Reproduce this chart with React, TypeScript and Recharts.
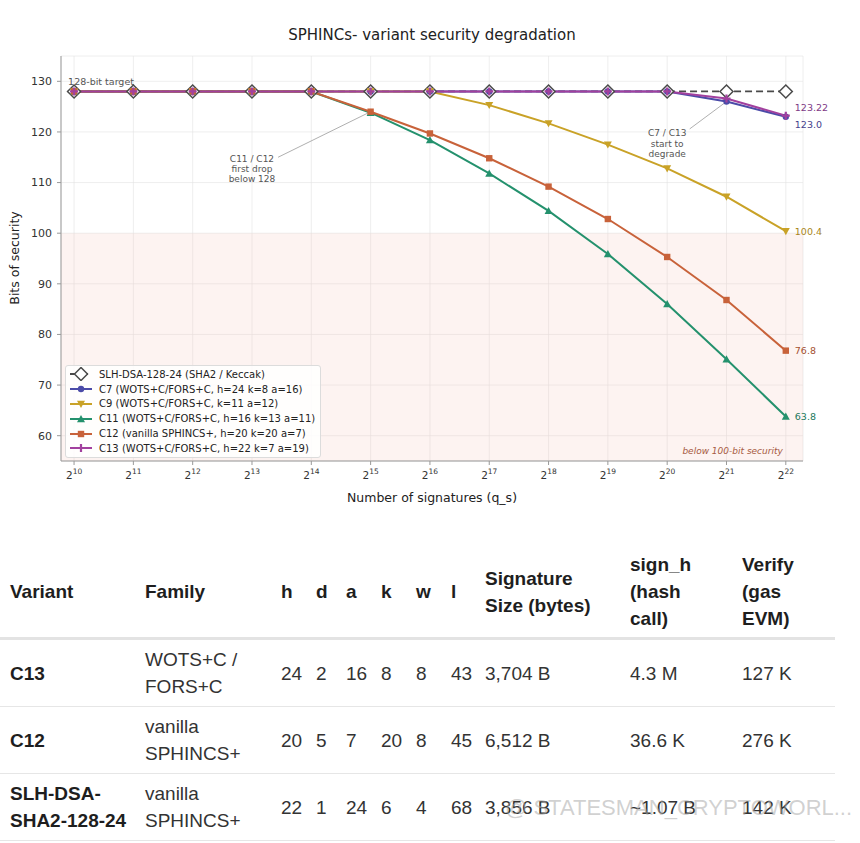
import React from 'react'
import {
  LineChart,
  Line,
  XAxis,
  YAxis,
  CartesianGrid,
  ReferenceArea,
  ReferenceLine,
  ReferenceDot,
  Legend,
  LabelList,
} from 'recharts'

// x is log2 of the number of signatures
const exponents = [10, 11, 12, 13, 14, 15, 16, 17, 18, 19, 20, 21, 22]
const slhDsa = [128, 128, 128, 128, 128, 128, 128, 128, 128, 128, 128, 128, 128]
const c7 = [128, 128, 128, 128, 128, 128, 128, 128, 128, 128, 128, 126.0, 123.0]
const c9 = [128, 128, 128, 128, 128, 128, 128, 125.3, 121.7, 117.5, 112.8, 107.2, 100.4]
const c11 = [128, 128, 128, 128, 128, 123.8, 118.4, 111.8, 104.4, 95.9, 86.0, 75.1, 63.8]
const c12 = [128, 128, 128, 128, 128, 124.0, 119.7, 114.8, 109.2, 102.8, 95.3, 86.8, 76.8]
const c13 = [128, 128, 128, 128, 128, 128, 128, 128, 128, 128, 128, 126.6, 123.22]
const yTicks = [60, 70, 80, 90, 100, 110, 120, 130]

const seriesNames = [
  'SLH-DSA-128-24 (SHA2 / Keccak)',
  'C7 (WOTS+C/FORS+C, h=24 k=8 a=16)',
  'C9 (WOTS+C/FORS+C, k=11 a=12)',
  'C11 (WOTS+C/FORS+C, h=16 k=13 a=11)',
  'C12 (vanilla SPHINCS+, h=20 k=20 a=7)',
  'C13 (WOTS+C/FORS+C, h=22 k=7 a=19)',
]

// table
const headers = ['Variant', 'Family', 'h', 'd', 'a', 'k', 'w', 'l', 'Signature\nSize (bytes)', 'sign_h\n(hash\ncall)', 'Verify\n(gas\nEVM)']
const variants = ['C13', 'C12', 'SLH-DSA-\nSHA2-128-24']
const families = ['WOTS+C /\nFORS+C', 'vanilla\nSPHINCS+', 'vanilla\nSPHINCS+']
const hVals = [24, 20, 22]
const dVals = [2, 5, 1]
const aVals = [16, 7, 24]
const kVals = [8, 20, 6]
const wVals = [8, 8, 4]
const lVals = [43, 45, 68]
const sigSizes = ['3,704 B', '6,512 B', '3,856 B']
const signH = ['4.3 M', '36.6 K', '~1.07 B']
const verifyGas = ['127 K', '276 K', '142 K']

const data = exponents.map((x, i) => ({
  x,
  slh: slhDsa[i],
  c7: c7[i],
  c9: c9[i],
  c11: c11[i],
  c12: c12[i],
  c13: c13[i],
}))

type Shape = 'diamond' | 'circle' | 'triDown' | 'triUp' | 'square' | 'plus'

const styles = [
  { key: 'slh', color: '#4a4a4a', shape: 'diamond' as Shape, dash: '7 4', width: 1.8 },
  { key: 'c7', color: '#4b4ba8', shape: 'circle' as Shape, labelColor: '#463f8c', dy: 8, digits: 1 },
  { key: 'c9', color: '#c9a227', shape: 'triDown' as Shape, labelColor: '#a8861c', dy: 0, digits: 1 },
  { key: 'c11', color: '#24916d', shape: 'triUp' as Shape, labelColor: '#22785c', dy: 0, digits: 1 },
  { key: 'c12', color: '#c8623a', shape: 'square' as Shape, labelColor: '#a4502f', dy: 0, digits: 1 },
  { key: 'c13', color: '#a2409e', shape: 'plus' as Shape, labelColor: '#7e3a86', dy: -8, digits: 2 },
]

const FONT = '"DejaVu Sans", sans-serif'

function Marker({ shape, cx, cy, color }: { shape: Shape; cx?: number; cy?: number; color: string }) {
  if (cx == null || cy == null) return null
  switch (shape) {
    case 'diamond': {
      const s = 6.5
      return (
        <polygon
          points={`${cx},${cy - s} ${cx + s},${cy} ${cx},${cy + s} ${cx - s},${cy}`}
          fill="#fff"
          stroke={color}
          strokeWidth={1.5}
        />
      )
    }
    case 'circle':
      return <circle cx={cx} cy={cy} r={3.2} fill={color} />
    case 'triDown': {
      const s = 4
      return <polygon points={`${cx - s},${cy - s * 0.8} ${cx + s},${cy - s * 0.8} ${cx},${cy + s}`} fill={color} />
    }
    case 'triUp': {
      const s = 4
      return <polygon points={`${cx - s},${cy + s * 0.8} ${cx + s},${cy + s * 0.8} ${cx},${cy - s}`} fill={color} />
    }
    case 'square':
      return <rect x={cx - 3.2} y={cy - 3.2} width={6.4} height={6.4} fill={color} />
    case 'plus':
      return (
        <path
          d={`M${cx - 4},${cy}H${cx + 4}M${cx},${cy - 4}V${cy + 4}`}
          stroke={color}
          strokeWidth={2.2}
        />
      )
  }
  return null
}

function PowTick({ x, y, payload }: any) {
  return (
    <g transform={`translate(${x},${y})`}>
      <text textAnchor="middle" y={12} fontSize={10.5} fill="#333" fontFamily={FONT}>
        <tspan>2</tspan>
        <tspan dy={-5} fontSize={7.5}>
          {payload.value}
        </tspan>
      </text>
    </g>
  )
}

function AnnoText({ viewBox, lines, anchor = 'middle', italic, color = '#555', size = 9 }: any) {
  if (!viewBox) return null
  const x = viewBox.x + (viewBox.width || 0) / 2
  const y = viewBox.y + (viewBox.height || 0) / 2
  return (
    <text
      x={x}
      y={y}
      textAnchor={anchor}
      fontSize={size}
      fill={color}
      fontFamily={FONT}
      fontStyle={italic ? 'italic' : 'normal'}
      dominantBaseline="central"
    >
      {lines.map((l: string, i: number) => (
        <tspan key={i} x={x} dy={i === 0 ? 0 : 10.3}>
          {l}
        </tspan>
      ))}
    </text>
  )
}

const endLabel = (color: string, dy: number, digits: number) => (props: any) => {
  if (props.index !== exponents.length - 1) return null
  return (
    <text
      x={props.x + 9}
      y={props.y + dy}
      dominantBaseline="central"
      fontSize={9.5}
      fill={color}
      fontFamily={FONT}
    >
      {Number(props.value).toFixed(digits)}
    </text>
  )
}

function LegendBox() {
  return (
    <div
      style={{
        background: 'rgba(255,255,255,0.85)',
        border: '1px solid #dcdcdc',
        borderRadius: 3,
        padding: '1px 3px',
        fontFamily: FONT,
        fontSize: 10,
        color: '#222',
        boxSizing: 'border-box',
        width: 256,
      }}
    >
      {styles.map((s, i) => (
        <div key={s.key} style={{ display: 'flex', alignItems: 'center', height: 14.8, whiteSpace: 'nowrap' }}>
          <svg width={24} height={14}>
            <line x1={1} x2={23} y1={7} y2={7} stroke={s.color} strokeWidth={s.width ?? 2} strokeDasharray={s.dash} />
            <Marker shape={s.shape} cx={12} cy={7} color={s.color} />
          </svg>
          <span style={{ marginLeft: 6 }}>{seriesNames[i]}</span>
        </div>
      ))}
    </div>
  )
}

const colWidths = [135, 136, 35, 30, 35, 35, 35, 34, 145, 112, 103]

function SpecTable() {
  const rows = variants.map((v, i) => [
    v,
    families[i],
    hVals[i],
    dVals[i],
    aVals[i],
    kVals[i],
    wVals[i],
    lVals[i],
    sigSizes[i],
    signH[i],
    verifyGas[i],
  ])
  const cell: React.CSSProperties = {
    padding: '0 0 0 10px',
    verticalAlign: 'middle',
    textAlign: 'left',
    whiteSpace: 'pre-line',
    lineHeight: '27px',
  }
  return (
    <table
      style={{
        position: 'absolute',
        left: 0,
        top: 546,
        width: 835,
        tableLayout: 'fixed',
        borderCollapse: 'separate',
        borderSpacing: 0,
        fontFamily: '"Liberation Sans", Arial, sans-serif',
        fontSize: 19,
      }}
    >
      <colgroup>
        {colWidths.map((w, i) => (
          <col key={i} style={{ width: w }} />
        ))}
      </colgroup>
      <thead>
        <tr>
          {headers.map((h, i) => (
            <th
              key={i}
              style={{ ...cell, height: 91, fontWeight: 'bold', color: '#1e1e1e', borderBottom: '3px solid #e3e3e3' }}
            >
              {h}
            </th>
          ))}
        </tr>
      </thead>
      <tbody>
        {rows.map((r, ri) => (
          <tr key={ri}>
            {r.map((c, ci) => (
              <td
                key={ci}
                style={{
                  ...cell,
                  height: 66,
                  color: ci === 0 ? '#1e1e1e' : '#333',
                  fontWeight: ci === 0 ? 'bold' : 'normal',
                  borderBottom: '1px solid #e6e6e6',
                }}
              >
                {c}
              </td>
            ))}
          </tr>
        ))}
      </tbody>
    </table>
  )
}

export default function App() {
  return (
    <div style={{ position: 'absolute', left: 0, top: 0, width: 860, height: 843, background: '#fff' }}>
      <LineChart width={860} height={515} data={data} margin={{ top: 56, right: 57, bottom: 14, left: 0 }}>
        <ReferenceArea y1={55} y2={100} fill="#f6c9bd" fillOpacity={0.22} stroke="none" />
        <CartesianGrid stroke="#e2e2e2" strokeOpacity={0.6} />
        <XAxis
          type="number"
          dataKey="x"
          domain={[9.78, 22.29]}
          ticks={exponents}
          interval={0}
          allowDataOverflow
          height={40}
          tick={<PowTick />}
          tickSize={4}
          axisLine={{ stroke: '#999' }}
          tickLine={{ stroke: '#999' }}
        />
        <YAxis
          type="number"
          domain={[55, 135]}
          ticks={yTicks}
          interval={0}
          allowDataOverflow
          width={61}
          tickSize={4}
          tickMargin={5}
          tick={{ fill: '#333', fontSize: 11, fontFamily: FONT }}
          axisLine={{ stroke: '#999' }}
          tickLine={{ stroke: '#999' }}
        />
        <ReferenceLine
          segment={[
            { x: 13.44, y: 115 },
            { x: 15, y: 124 },
          ]}
          stroke="#9a9a9a"
          strokeWidth={0.8}
        />
        <ReferenceLine
          segment={[
            { x: 20.38, y: 120.6 },
            { x: 21, y: 126 },
          ]}
          stroke="#9a9a9a"
          strokeWidth={0.8}
        />
        {styles.map((s) => (
          <Line
            key={s.key}
            type="linear"
            dataKey={s.key}
            stroke={s.color}
            strokeWidth={s.width ?? 2}
            strokeDasharray={s.dash}
            isAnimationActive={false}
            activeDot={false}
            dot={(p: any) => (
              <Marker key={`${s.key}-${p.index}`} shape={s.shape} cx={p.cx} cy={p.cy} color={s.color} />
            )}
          >
            {s.labelColor ? (
              <LabelList dataKey={s.key} content={endLabel(s.labelColor, s.dy ?? 0, s.digits ?? 1)} />
            ) : null}
          </Line>
        ))}
        <ReferenceDot
          x={9.9}
          y={130.1}
          r={0}
          fill="none"
          stroke="none"
          label={<AnnoText lines={['128-bit target']} anchor="start" size={9.5} />}
        />
        <ReferenceDot
          x={13.0}
          y={114.7}
          r={0}
          fill="none"
          stroke="none"
          label={<AnnoText lines={['C11 / C12', 'first drop', 'below 128']} />}
        />
        <ReferenceDot
          x={20.0}
          y={119.7}
          r={0}
          fill="none"
          stroke="none"
          label={<AnnoText lines={['C7 / C13', 'start to', 'degrade']} />}
        />
        <ReferenceDot
          x={21.95}
          y={56.9}
          r={0}
          fill="none"
          stroke="none"
          label={<AnnoText lines={['below 100-bit security']} anchor="end" italic color="#a65a42" />}
        />
        <Legend
          content={<LegendBox />}
          layout="vertical"
          align="center"
          verticalAlign="middle"
          wrapperStyle={{ left: 65, top: 365, width: 256 }}
        />
      </LineChart>
      <div
        style={{
          position: 'absolute',
          left: 432,
          top: 35,
          transform: 'translate(-50%,-50%)',
          fontFamily: FONT,
          fontSize: 15,
          color: '#222',
          whiteSpace: 'nowrap',
        }}
      >
        SPHINCs- variant security degradation
      </div>
      <div
        style={{
          position: 'absolute',
          left: 14,
          top: 258,
          transform: 'translate(-50%,-50%) rotate(-90deg)',
          fontFamily: FONT,
          fontSize: 12.5,
          color: '#222',
          whiteSpace: 'nowrap',
        }}
      >
        Bits of security
      </div>
      <div
        style={{
          position: 'absolute',
          left: 432,
          top: 497,
          transform: 'translate(-50%,-50%)',
          fontFamily: FONT,
          fontSize: 12.5,
          color: '#222',
          whiteSpace: 'nowrap',
        }}
      >
        Number of signatures (q_s)
      </div>
      <SpecTable />
      <div
        style={{
          position: 'absolute',
          left: 505,
          top: 797,
          fontFamily: '"Liberation Sans", Arial, sans-serif',
          fontSize: 22,
          lineHeight: '22px',
          color: 'rgba(170,170,170,0.55)',
          whiteSpace: 'nowrap',
        }}
      >
        @ STATESMAN_CRYPTOWORL...
      </div>
    </div>
  )
}
